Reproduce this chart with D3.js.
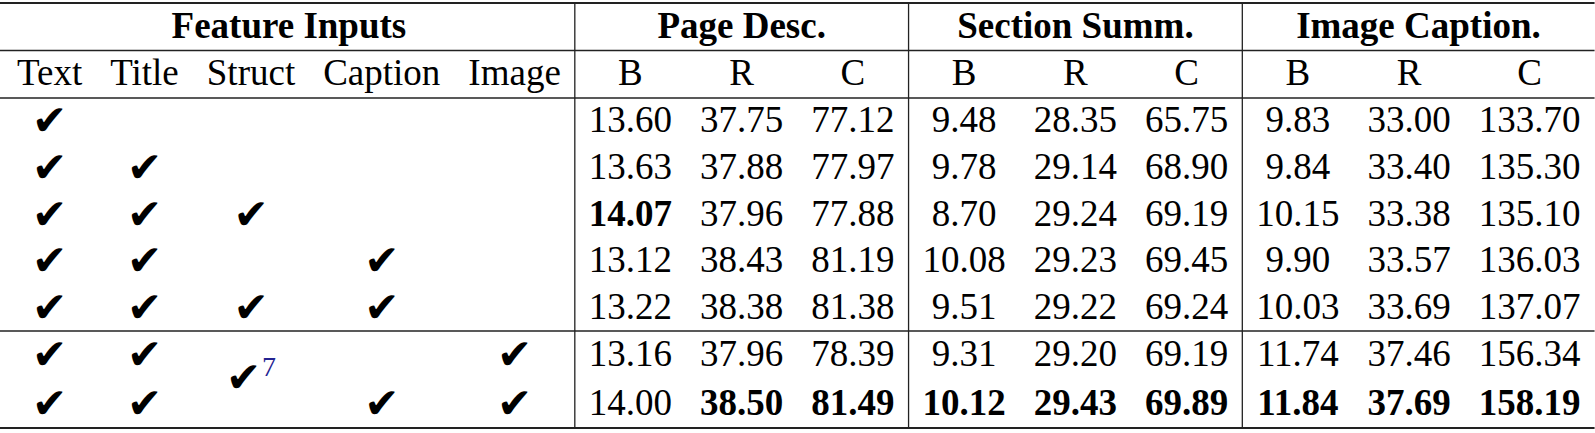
<!DOCTYPE html>
<html>
<head>
<meta charset="utf-8">
<script src="https://cdn.jsdelivr.net/npm/d3@7"></script>
<style>
  html, body { margin: 0; padding: 0; background: #fff; }
  svg { display: block; }
</style>
</head>
<body>
<div id="table"></div>
<script>
// table contents
var features = ['Text', 'Title', 'Struct', 'Caption', 'Image'];
var tasks = ['Page Desc.', 'Section Summ.', 'Image Caption.'];
var metrics = ['B', 'R', 'C'];

// which inputs are used in each row (null = merged cell drawn once)
var inputRows = [
  [1, 0, 0, 0, 0],
  [1, 1, 0, 0, 0],
  [1, 1, 1, 0, 0],
  [1, 1, 0, 1, 0],
  [1, 1, 1, 1, 0],
  [1, 1, null, 0, 1],
  [1, 1, null, 1, 1]
];
var mergedStruct = { rows: [5, 6], note: '7' };

var pageDesc = [
  [13.60, 37.75, 77.12],
  [13.63, 37.88, 77.97],
  [14.07, 37.96, 77.88],
  [13.12, 38.43, 81.19],
  [13.22, 38.38, 81.38],
  [13.16, 37.96, 78.39],
  [14.00, 38.50, 81.49]
];
var sectionSumm = [
  [9.48, 28.35, 65.75],
  [9.78, 29.14, 68.90],
  [8.70, 29.24, 69.19],
  [10.08, 29.23, 69.45],
  [9.51, 29.22, 69.24],
  [9.31, 29.20, 69.19],
  [10.12, 29.43, 69.89]
];
var imageCaption = [
  [9.83, 33.00, 133.70],
  [9.84, 33.40, 135.30],
  [10.15, 33.38, 135.10],
  [9.90, 33.57, 136.03],
  [10.03, 33.69, 137.07],
  [11.74, 37.46, 156.34],
  [11.84, 37.69, 158.19]
];
var taskValues = [pageDesc, sectionSumm, imageCaption];

var W = 1595, H = 433;
var fontSize = 37, pad = 14;
var serif = '"Liberation Serif"';
var fmt = d3.format('.2f');

var svg = d3.select('#table').append('svg')
  .attr('width', W).attr('height', H);

svg.append('rect').attr('width', W).attr('height', H).attr('fill', '#fff');

// every table text goes through here so the font is set on the element itself
function serifText(sel) {
  return sel.style('font-family', serif).style('font-size', fontSize + 'px');
}

function measure(txt, bold) {
  var t = serifText(svg.append('text')).text(txt).attr('font-weight', bold ? 'bold' : 'normal');
  var w = t.node().getComputedTextLength();
  t.remove();
  return w;
}

// columns: features first, then task x metric
var cols = features.map(function(f) {
  return { key: f, header: f, width: measure(f) + 2 * pad };
});
tasks.forEach(function(task, ti) {
  metrics.forEach(function(m, mi) {
    var vals = taskValues[ti].map(function(r) { return r[mi]; });
    var best = d3.max(vals);
    var w = d3.max(vals, function(v) { return measure(fmt(v), v === best); });
    cols.push({ key: task + '|' + m, header: m, task: ti, metric: mi, best: best,
      width: Math.max(w, measure(m)) + 2 * pad });
  });
});

var x0 = 3;
var edges = [x0];
cols.forEach(function(c) { edges.push(edges[edges.length - 1] + c.width); });
var colLeft = d3.scaleOrdinal().domain(cols.map(function(c) { return c.key; })).range(edges.slice(0, -1));
var colMid = function(c) { return colLeft(c.key) + c.width / 2; };
var tableRight = edges[edges.length - 1];

// rows
var topY = 3;
var headerH = 47.5;
var rowHeights = [46.6, 46.6, 46.6, 46.6, 46.6, 48.5, 48.5];
var rowEdges = [topY + 2 * headerH];
rowHeights.forEach(function(h) { rowEdges.push(rowEdges[rowEdges.length - 1] + h); });
var rowMid = function(i) { return (rowEdges[i] + rowEdges[i + 1]) / 2; };
var bottomY = rowEdges[rowEdges.length - 1];
var baseShift = 11;

// group spans
var groups = [{ label: 'Feature Inputs', from: 0, to: features.length }];
tasks.forEach(function(t, i) {
  var from = features.length + i * metrics.length;
  groups.push({ label: t, from: from, to: from + metrics.length });
});

// top header
serifText(svg.selectAll('text.group').data(groups).enter().append('text'))
  .attr('class', 'group')
  .attr('x', function(g) { return (edges[g.from] + edges[g.to]) / 2; })
  .attr('y', topY + headerH / 2 + baseShift)
  .attr('text-anchor', 'middle')
  .attr('font-weight', 'bold')
  .text(function(g) { return g.label; });

// second header
serifText(svg.selectAll('text.colhead').data(cols).enter().append('text'))
  .attr('class', 'colhead')
  .attr('x', colMid)
  .attr('y', topY + headerH * 1.5 + baseShift)
  .attr('text-anchor', 'middle')
  .text(function(c) { return c.header; });

// check marks
var checkFont = '"DejaVu Sans"';
var checkSize = 42;
var checks = [];
inputRows.forEach(function(r, ri) {
  r.forEach(function(v, fi) { if (v === 1) checks.push({ row: ri, col: cols[fi] }); });
});
svg.selectAll('text.check').data(checks).enter().append('text')
  .attr('class', 'check')
  .attr('x', function(d) { return colMid(d.col); })
  .attr('y', function(d) { return rowMid(d.row) + 14; })
  .attr('text-anchor', 'middle')
  .style('font-family', checkFont)
  .style('font-size', checkSize + 'px')
  .text('\u2714');

// merged struct cell with footnote mark
var sc = cols[features.indexOf('Struct')];
var my = (rowEdges[mergedStruct.rows[0]] + rowEdges[mergedStruct.rows[1] + 1]) / 2;
var merged = svg.append('text')
  .attr('x', colMid(sc))
  .attr('y', my + 12)
  .attr('text-anchor', 'middle');
merged.append('tspan')
  .style('font-family', checkFont)
  .style('font-size', checkSize + 'px')
  .text('\u2714');
merged.append('tspan')
  .attr('dy', -16)
  .attr('dx', 1)
  .style('font-family', serif)
  .style('font-size', '28px')
  .attr('fill', '#232391')
  .text(mergedStruct.note);

// numbers
var cells = [];
cols.forEach(function(c) {
  if (c.task === undefined) return;
  taskValues[c.task].forEach(function(r, ri) {
    cells.push({ col: c, row: ri, v: r[c.metric], bold: r[c.metric] === c.best });
  });
});
serifText(svg.selectAll('text.num').data(cells).enter().append('text'))
  .attr('class', 'num')
  .attr('x', function(d) { return colMid(d.col); })
  .attr('y', function(d) { return rowMid(d.row) + baseShift; })
  .attr('text-anchor', 'middle')
  .attr('font-weight', function(d) { return d.bold ? 'bold' : 'normal'; })
  .text(function(d) { return fmt(d.v); });

// rules
var hlines = [
  { y: topY, w: 2.2 },
  { y: topY + headerH, w: 1.3 },
  { y: topY + 2 * headerH, w: 1.3 },
  { y: rowEdges[5], w: 1.3 },
  { y: bottomY, w: 2.2 }
];
svg.selectAll('line.h').data(hlines).enter().append('line')
  .attr('class', 'h')
  .attr('x1', 0).attr('x2', tableRight)
  .attr('y1', function(d) { return d.y; }).attr('y2', function(d) { return d.y; })
  .attr('stroke', '#222').attr('stroke-width', function(d) { return d.w; });

var vlines = groups.slice(1).map(function(g) { return edges[g.from]; });
svg.selectAll('line.v').data(vlines).enter().append('line')
  .attr('class', 'v')
  .attr('x1', function(d) { return d; }).attr('x2', function(d) { return d; })
  .attr('y1', topY).attr('y2', bottomY)
  .attr('stroke', '#222').attr('stroke-width', 1.3);
</script>
</body>
</html>
